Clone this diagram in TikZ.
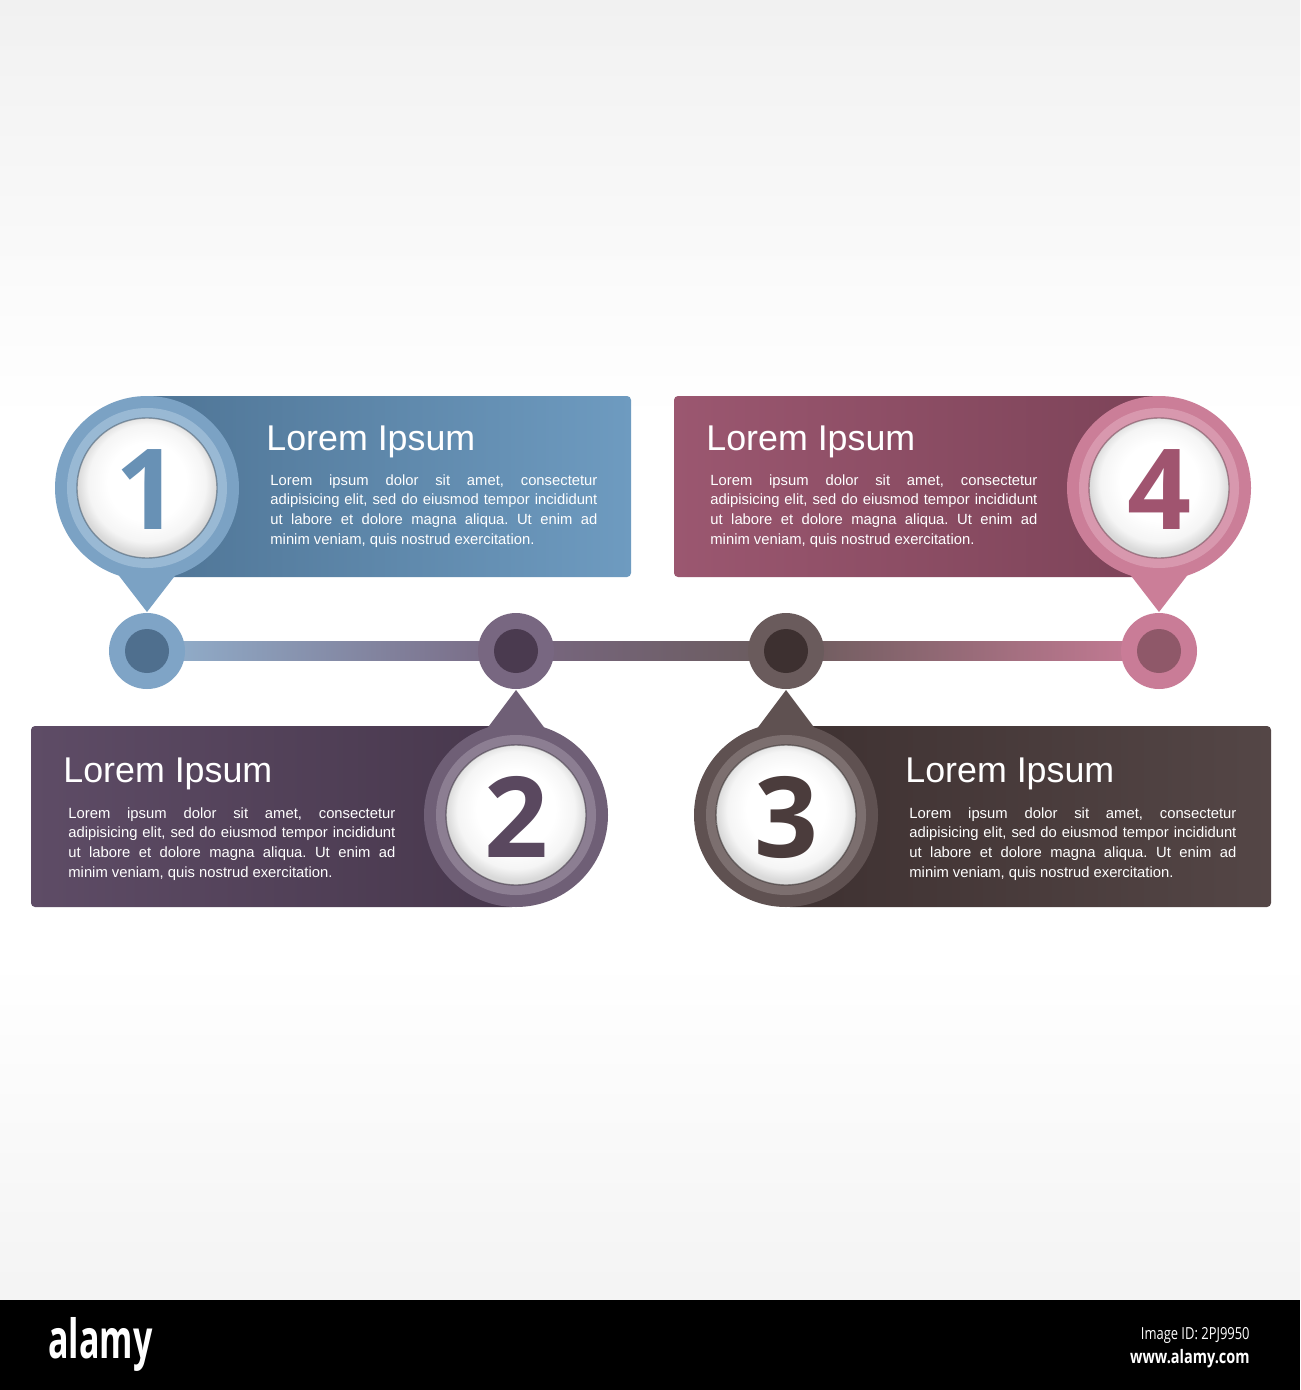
\documentclass[tikz,border=0pt]{standalone}
\usepackage{fontspec}
\usepackage{graphicx}
\setmainfont{Liberation Sans}
\newfontfamily\digitfont{Open Sans}
\newfontfamily\logofont{Open Sans}
\usetikzlibrary{calc}
\hbadness=10000
\frenchspacing
\definecolor{blueBoxL}{HTML}{4F7596}\definecolor{blueBoxR}{HTML}{6E9BC0}
\definecolor{blueRing}{HTML}{7BA2C4}\definecolor{blueHL}{HTML}{B2CCE2}
\definecolor{blueDig}{HTML}{6891B5}\definecolor{blueDotO}{HTML}{7FA4C6}\definecolor{blueDotI}{HTML}{4F6F8E}
\definecolor{purBoxL}{HTML}{5E4C66}\definecolor{purBoxR}{HTML}{47374C}
\definecolor{purRing}{HTML}{6F5F76}\definecolor{purHL}{HTML}{A598AA}
\definecolor{purDig}{HTML}{5A485F}\definecolor{purDotO}{HTML}{786781}\definecolor{purDotI}{HTML}{4A3A4F}
\definecolor{brnBoxL}{HTML}{3E3131}\definecolor{brnBoxR}{HTML}{544646}
\definecolor{brnRing}{HTML}{5F5151}\definecolor{brnHL}{HTML}{948888}
\definecolor{brnDig}{HTML}{4B3C3C}\definecolor{brnDotO}{HTML}{6A5B5C}\definecolor{brnDotI}{HTML}{3D3030}
\definecolor{pnkBoxL}{HTML}{9B5770}\definecolor{pnkBoxR}{HTML}{7C4358}
\definecolor{pnkRing}{HTML}{CB7E98}\definecolor{pnkHL}{HTML}{E4AFC1}
\definecolor{pnkDig}{HTML}{A0546F}\definecolor{pnkDotO}{HTML}{C97C97}\definecolor{pnkDotI}{HTML}{8F5869}
\pgfdeclareradialshading{glassball}{\pgfpoint{0bp}{3bp}}{%
  color(0bp)=(white); color(14bp)=(white); color(21bp)=(gray!8); color(25bp)=(gray!30); color(50bp)=(gray!30)}
\newcommand\loremtext{Lorem ipsum dolor sit amet, consectetur\linebreak adipisicing elit, sed do eiusmod tempor incididunt\linebreak ut labore et dolore magna aliqua. Ut enim ad\linebreak minim veniam, quis nostrud exercitation.}
% #1 center name, #2 tip name, #3 ring, #4 highlight, #5 digit colour, #6 digit, #7 dir (+1 down, -1 up)
\newcommand\drawpin[7]{%
  \fill[#3] (#1) circle[radius=92];
  \fill[#3] (#2) -- ($(#1)+(-27,#7*89)$) .. controls ($(#1)+(-34,#7*80)$) .. ($(#1)+(-55,#7*73.7)$)
     -- ($(#1)+(55,#7*73.7)$) .. controls ($(#1)+(34,#7*80)$) .. ($(#1)+(27,#7*89)$) -- cycle;
  \draw[#4, line width=5pt, opacity=0.55] (#1) circle[radius=75];
  \shade[shading=glassball] (#1) circle[radius=70];
  \draw[#3!55!black, line width=0.7pt, opacity=0.55] (#1) circle[radius=70];
  \node[digit, text=#5] at ($(#1)+(0,2)$) {#6};
}
\begin{document}
\begin{tikzpicture}[x=0.5pt,y=-0.5pt,
  title/.style={anchor=base west, inner sep=0pt, text=white, font=\fontsize{17.9}{20}\selectfont},
  body/.style={anchor=north west, inner sep=0pt, text width=163.5pt, align=justify, text=white, font=\fontsize{7.4}{9.85}\selectfont},
  digit/.style={inner sep=0pt, font=\digitfont\bfseries\fontsize{56}{60}\selectfont},
  boxshape/.style={rounded corners=2pt}]
\useasboundingbox (0,0) rectangle (1300,1390);
% background
\shade[top color=gray!11, bottom color=white] (0,0) rectangle (1300,420);
\fill[white] (0,420) rectangle (1300,960);
\shade[top color=white, bottom color=gray!9] (0,960) rectangle (1300,1300);
\fill[black] (0,1300) rectangle (1300,1390);
% coordinates
\coordinate (p1) at (147,488); \coordinate (t1) at (147,612); \coordinate (d1) at (147,651);
\coordinate (p2) at (516,815); \coordinate (t2) at (516,690); \coordinate (d2) at (516,651);
\coordinate (p3) at (786,815); \coordinate (t3) at (786,690); \coordinate (d3) at (786,651);
\coordinate (p4) at (1159,488); \coordinate (t4) at (1159,612); \coordinate (d4) at (1159,651);
% boxes
\shade[boxshape, left color=blueBoxL, right color=blueBoxR] (150,396) rectangle (631,577);
\shade[boxshape, left color=pnkBoxL, right color=pnkBoxR] (674,396) rectangle (1159,577);
\shade[boxshape, left color=purBoxL, right color=purBoxR] (31,726) rectangle (516,907);
\shade[boxshape, left color=brnBoxL, right color=brnBoxR] (786,726) rectangle (1271,907);
% connector bar
\shade[left color=blueDotO!85!white, right color=purDotO] ($(d1)+(0,-9.5)$) rectangle ($(d2)+(0,9.5)$);
\shade[left color=purDotO, right color=brnDotO] ($(d2)+(0,-9.5)$) rectangle ($(d3)+(0,9.5)$);
\shade[left color=brnDotO, right color=pnkDotO] ($(d3)+(0,-9.5)$) rectangle ($(d4)+(0,9.5)$);
% dots
\fill[blueDotO] (d1) circle[radius=38]; \fill[blueDotI] (d1) circle[radius=22];
\fill[purDotO] (d2) circle[radius=38]; \fill[purDotI] (d2) circle[radius=22];
\fill[brnDotO] (d3) circle[radius=38]; \fill[brnDotI] (d3) circle[radius=22];
\fill[pnkDotO] (d4) circle[radius=38]; \fill[pnkDotI] (d4) circle[radius=22];
% pins
\drawpin{p1}{t1}{blueRing}{blueHL}{blueDig}{1}{1}
\drawpin{p4}{t4}{pnkRing}{pnkHL}{pnkDig}{4}{1}
\drawpin{p2}{t2}{purRing}{purHL}{purDig}{2}{-1}
\drawpin{p3}{t3}{brnRing}{brnHL}{brnDig}{3}{-1}
% texts
\node[title] (h1) at (266,450) {Lorem Ipsum};
\node[body] (b1) at (270,474) {\loremtext};
\node[title] (h4) at (706,450) {Lorem Ipsum};
\node[body] (b4) at (710,474) {\loremtext};
\node[title] (h2) at (63,782) {Lorem Ipsum};
\node[body] (b2) at (68,807) {\loremtext};
\node[title] (h3) at (905,782) {Lorem Ipsum};
\node[body] (b3) at (909,807) {\loremtext};
% footer
\node[anchor=west, inner sep=0pt, text=white, font=\logofont\bfseries\fontsize{27}{30}\selectfont] (logo) at (48,1344) {\scalebox{0.63}[1]{alamy}};
\node[anchor=base east, inner sep=0pt, text=white, font=\logofont\fontsize{8.3}{10}\selectfont] (iid) at (1250,1339) {\scalebox{0.78}[1]{Image ID: 2PJ9950}};
\node[anchor=base east, inner sep=0pt, text=white, font=\logofont\bfseries\fontsize{9.3}{11}\selectfont] (url) at (1250,1363) {\scalebox{0.78}[1]{www.alamy.com}};
\end{tikzpicture}
\end{document}
